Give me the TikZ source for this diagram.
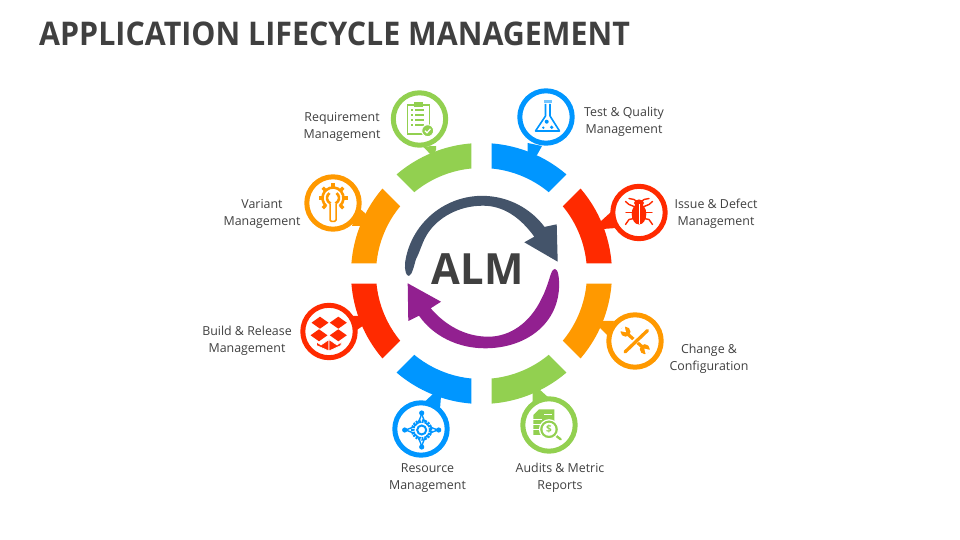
\documentclass[tikz,border=0pt]{standalone}
\usepackage{fontspec}
\setmainfont{Open Sans}
\newfontfamily\titlefont[FakeStretch=0.932]{Open Sans}
\newfontfamily\almfont[FakeStretch=0.97]{Open Sans}
\usetikzlibrary{arrows.meta,positioning,calc}
\definecolor{almgreen}{HTML}{92D050}
\definecolor{almblue}{HTML}{0096FF}
\definecolor{almred}{HTML}{FF2A00}
\definecolor{almorange}{HTML}{FF9900}
\definecolor{almnavy}{HTML}{44546A}
\definecolor{almpurple}{HTML}{922090}
\definecolor{almtext}{HTML}{404040}

\begin{document}
\begin{tikzpicture}[
    x=1pt, y=1pt,
    iconring/.style={draw, fill=white, circle, line width=5pt, minimum size=52.4pt, inner sep=0pt},
    itemlabel/.style={align=center, text=almtext, font=\fontsize{12.4}{17}\selectfont}
]
\useasboundingbox (0,0) rectangle (960,540);

\node[text=almtext, font=\fontsize{32.6}{36}\titlefont\bfseries, anchor=west, inner sep=0pt] (title) at (39,506) {APPLICATION LIFECYCLE MANAGEMENT};

% Ring segments
\begin{scope}[shift={(481.5,266.5)}]
\foreach \a/\c in {45/almblue, 0/almred, -45/almorange, -90/almgreen, -135/almblue, -180/almred, 135/almorange, 90/almgreen} {
    \fill[\c] (\a+4.4:130.5) arc[start angle=\a+4.4, end angle=\a+40.6, radius=130.5pt]
        -- (\a+39.55:105.5) arc[start angle=\a+39.55, end angle=\a+5.45, radius=105.5pt] -- cycle;
}
\end{scope}

% Pointers from ring segments to icons
\fill[almgreen] (423,393.5) -- (432,384) -- (436,390) -- (436,394) -- cycle;
\fill[almblue] (527.7,397) -- (527.7,385) -- (537,385) -- (542,394) -- cycle;
\fill[almred] (611,328) -- (600,318) -- (603,311) -- (616,312) -- cycle;
\fill[almorange] (614,219) -- (602,219) -- (598,214) -- (608,204) -- cycle;
\fill[almorange] (358,333) -- (366,326) -- (362,314) -- (352,314) -- cycle;
\fill[almred] (350,224) -- (360,224) -- (364,215) -- (354,208) -- cycle;
\fill[almblue] (425,138.5) -- (434,147) -- (441,144) -- (440,131) -- cycle;
\fill[almgreen] (532.5,148) -- (532.5,137) -- (549,142) -- (539,151) -- cycle;

% Icon rings
\node[iconring, draw=almgreen] (reqring) at (419.5,421) {};
\node[iconring, draw=almblue] (testring) at (546,423) {};
\node[iconring, draw=almred] (issuering) at (639,327.5) {};
\node[iconring, draw=almorange] (changering) at (635,199) {};
\node[iconring, draw=almgreen] (auditring) at (549,115) {};
\node[iconring, draw=almblue] (resring) at (421,111) {};
\node[iconring, draw=almred] (buildring) at (329,208.5) {};
\node[iconring, draw=almorange] (varring) at (333,337) {};

% Clipboard
\begin{scope}[shift={(reqring.center)}, almgreen]
\draw[line width=1.6pt] (-12,14) rectangle (10,-15);
\fill (-6,16.5) rectangle (3.5,12);
\foreach \y in {9,4,-1,-6} {
    \fill (-9,\y+1.2) rectangle (-6.6,\y-1.2);
    \fill (-5,\y+0.8) rectangle (4.5,\y-0.8);
}
\filldraw[draw=white, line width=1pt] (8.2,-11.7) circle (6);
\draw[white, line width=1.2pt] (5.4,-11.7) -- (7.5,-13.8) -- (11,-9.8);
\end{scope}

% Flask
\begin{scope}[shift={(testring.center)}, almblue]
\draw[line width=1.6pt, line join=round] (-0.5,13) -- (-0.5,1) -- (-10.5,-14) -- (13.5,-14) -- (4,1) -- (4,13);
\fill[almblue!55] (-2.5,16.5) rectangle (6,13.5);
\fill (0.7,-4.7) circle (2);
\fill (-2.7,-10.7) circle (1.3);
\fill (5.7,-10.3) circle (1.8);
\end{scope}

% Bug
\begin{scope}[shift={(issuering.center)}, almred]
\foreach \s in {1,-1} {
    \begin{scope}[xscale=\s]
    \draw[line width=1.4pt, line cap=round] (1,10) -- (5,13) -- (10,14);
    \draw[line width=1.4pt, line cap=round] (5,6) -- (10,8) -- (13.5,11);
    \draw[line width=1.4pt, line cap=round] (5,0) -- (13,0);
    \draw[line width=1.4pt, line cap=round] (5,-6) -- (10,-7) -- (13.5,-12);
    \end{scope}
}
\fill (0,9.5) ellipse (5 and 3.5);
\fill (0,-1.5) ellipse (7.3 and 10.5);
\draw[white, line width=0.9pt] (0,8) -- (0,-12);
\end{scope}

% Wrench and screwdriver
\begin{scope}[shift={(changering.center)}, almorange]
\draw[line width=3.2pt, line cap=round] (-8,7.5) -- (8,-6.5);
\fill (-9.5,9.3) circle (5);
\fill (9.8,-8.2) circle (5);
\fill[white] (-9,8.8) -- (-15.5,10) -- (-10.5,15.5) -- cycle;
\fill[white] (9.3,-7.7) -- (16,-9) -- (11,-14.5) -- cycle;
\draw[white, line width=5.5pt] (6,5) -- (-6,-6);
\draw[line width=3.3pt, line cap=round] (12.5,10.5) -- (-10,-11);
\end{scope}

% Gear and wrench
\begin{scope}[shift={(varring.center)}, almorange]
\draw[line width=2.6pt] (0,5)+(-50:10.5) arc[start angle=-50, end angle=230, radius=10.5pt];
\foreach \t in {-45,0,45,90,135,180,225} {
    \draw[line width=3.5pt] ($(0,5)+(\t:10.5)$) -- ($(0,5)+(\t:14.5)$);
}
\draw[line width=2.6pt] (0,5)+(55:6) arc[start angle=55, end angle=-65, radius=6pt];
\draw[line width=2.6pt] (0,5)+(125:6) arc[start angle=125, end angle=245, radius=6pt];
\draw[line width=1.5pt, rounded corners=1.5pt, fill=white] (-3,-0.5) -- (-3,-18.5) -- (3,-18.5) -- (3,-0.5);
\end{scope}

% Open box
\begin{scope}[shift={(buildring.center)}, almred]
\foreach \x/\y in {-9/8.8, 9.3/8.8, -10/-3.8, 9.3/-3.8} {
    \fill (\x-8.5,\y) -- (\x,\y+6) -- (\x+8.5,\y) -- (\x,\y-6) -- cycle;
}
\draw[white, line width=0.7pt, fill=almred] (0,-8) -- (0,-19.5) -- (-12.5,-14) -- (-12.5,-10.5) -- (-8,-13.5) -- cycle;
\draw[white, line width=0.7pt, fill=almred] (0,-8) -- (0,-19.5) -- (12,-14) -- (12,-10.5) -- (8,-13.5) -- cycle;
\end{scope}

% Gear network
\begin{scope}[shift={(resring.center)}, almblue]
\foreach \t in {0,90,180,270} {
    \fill ($(0.7,-1)+(\t:17)$) circle (2.6);
    \draw[line width=1.4pt] ($(0.7,-1)+(\t:17)$) .. controls ($(0.7,-1)+(\t+20:7)$) and ($(0.7,-1)+(\t+70:7)$) .. ($(0.7,-1)+(\t+90:17)$);
}
\draw[line width=3.5pt, dash pattern=on 2pt off 1pt] (0.7,-1) circle (9);
\draw[line width=2pt] (0.7,-1) circle (4.5);
\end{scope}

% Report and magnifier
\begin{scope}[shift={(auditring.center)}, almgreen]
\fill (-10,15.7) -- (5.3,15.7) -- (5.3,-10) -- (-15.7,-10) -- (-15.7,10) -- cycle;
\fill[white] (-5,11) rectangle (3,9.5);
\foreach \y in {6,1,-4} {
    \fill[white] (-15.7,\y) rectangle (-7,\y-1.3);
}
\draw[white, line width=4.5pt] (6,-10) -- (11.7,-15);
\draw[line width=2.3pt, line cap=round] (6,-10) -- (11.7,-14.3);
\filldraw[draw=white, line width=1.2pt] (0,-4.3) circle (9.5);
\fill[white] (0,-4.3) circle (6.5);
\node[text=almgreen, font=\fontsize{10}{10}\selectfont\bfseries, inner sep=0pt] (dollar) at (0,-4.3) {\$};
\end{scope}

% Labels
\node[itemlabel] (reqlabel) at (342,413) {Requirement\\Management};
\node[itemlabel] (testlabel) at (624,418.5) {Test \& Quality\\Management};
\node[itemlabel] (issuelabel) at (716,326.5) {Issue \& Defect\\Management};
\node[itemlabel] (changelabel) at (709,181.5) {Change \&\\Configuration};
\node[itemlabel] (varlabel) at (262,326) {Variant\\Management};
\node[itemlabel] (buildlabel) at (247,199.5) {Build \& Release\\Management};
\node[itemlabel] (reslabel) at (427.5,62) {Resource\\Management};
\node[itemlabel] (auditlabel) at (560,62) {Audits \& Metric\\Reports};

% Centre arrows
\fill[almnavy] (405,277) arc[start angle=172, end angle=37, radius=78pt]
    -- (556.7,315.7) -- (557.7,278.3) -- (524.3,297.7) -- (534.3,303.3)
    .. controls (520,323) and (503,334.3) .. (483,334.3)
    .. controls (458,334.3) and (438,322) .. (428,307)
    .. controls (422,298) and (420,288) .. (416,281)
    .. controls (414,274) and (412,265) .. (409,264)
    .. controls (406,264) and (404.5,270) .. (405,277) -- cycle;
\fill[almpurple] (407.7,256.7) -- (408.3,219) -- (419,224.3)
    .. controls (433,204) and (458,191.7) .. (485,191.7)
    .. controls (525,191.7) and (557,215) .. (559,251.7)
    .. controls (559.5,262) and (558,271) .. (555,271)
    .. controls (552,271) and (551,266) .. (550,263.3)
    .. controls (547,254) and (545,248) .. (541.7,241.7)
    .. controls (530,217) and (510,203.3) .. (488.3,203.3)
    .. controls (465,203.3) and (445,215) .. (430.7,231.7)
    -- (441,238.3) -- cycle;
\node[text=almtext, font=\fontsize{43}{44}\almfont\bfseries, inner sep=0pt] (alm) at (477.5,271) {ALM};
\end{tikzpicture}
\end{document}
